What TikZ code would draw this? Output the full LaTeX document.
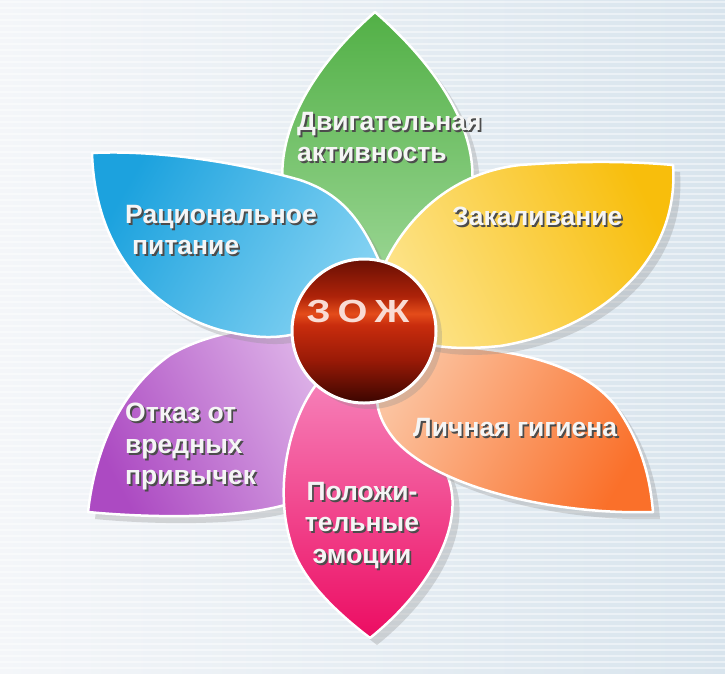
\documentclass[tikz,border=0pt]{standalone}
\usepackage{fontspec}
\newfontfamily\leaffont{Liberation Sans}
\newfontfamily\zozhfont{Liberation Sans}[FakeStretch=1.2]
\usetikzlibrary{shadows}

\definecolor{bgleft}{HTML}{F4F6F9}
\definecolor{bgright}{HTML}{D8E4ED}
\definecolor{greentip}{HTML}{52B046}
\definecolor{greenbase}{HTML}{A6DCA0}
\definecolor{bluetip}{HTML}{1CA2DE}
\definecolor{bluebase}{HTML}{86D3F3}
\definecolor{yellowtip}{HTML}{F8BE0C}
\definecolor{yellowbase}{HTML}{FDE48C}
\definecolor{orangetip}{HTML}{FA702A}
\definecolor{orangebase}{HTML}{FBC3A0}
\definecolor{pinktip}{HTML}{EC0C62}
\definecolor{pinkbase}{HTML}{F78AC0}
\definecolor{violettip}{HTML}{AC4AC2}
\definecolor{violetbase}{HTML}{E0B8EA}
\definecolor{labelwhite}{HTML}{F5F5F5}
\definecolor{zozhwhite}{HTML}{F9DCD4}
\definecolor{ballA}{HTML}{3A0500}
\definecolor{ballB}{HTML}{9A1A07}
\definecolor{ballC}{HTML}{C82C0D}
\definecolor{ballD}{HTML}{E44C1A}
\definecolor{ballE}{HTML}{AE2309}
\definecolor{ballF}{HTML}{680F04}

\pgfdeclareverticalshading{zozhball}{100bp}{color(0bp)=(ballA); color(25bp)=(ballA); color(40bp)=(ballB); color(52bp)=(ballC); color(56bp)=(ballD); color(62bp)=(ballE); color(75bp)=(ballF); color(100bp)=(ballF)}

\tikzstyle{bgstripe} = [white, line width=2pt, opacity=0.45]
\tikzstyle{leaf} = [draw=white, line width=2.5pt, line join=round, drop shadow={shadow xshift=7pt, shadow yshift=-7pt, opacity=0.3, fill=black!45}]
\tikzstyle{ball} = [circle, minimum size=144pt, inner sep=0pt, draw=white, line width=3pt, shade, shading=zozhball, drop shadow={shadow xshift=6pt, shadow yshift=-6pt, opacity=0.3, fill=black!45}]
\tikzstyle{balltext} = [font=\zozhfont\bfseries\fontsize{32}{36}\selectfont, text=zozhwhite, inner sep=0pt]
\tikzstyle{leaftext} = [font=\leaffont\bfseries\fontsize{26.5}{31.5}\selectfont, text=labelwhite, inner sep=0pt]
\tikzstyle{leafshadow} = [leaftext, text=black!70, xshift=1.8pt, yshift=-1.8pt]

\newcommand{\leaflabel}[4]{%
  \node[leafshadow, #2] at #3 {#4};
  \node[leaftext, #2] (#1) at #3 {#4};}

\begin{document}
\begin{tikzpicture}[x=1pt, y=-1pt]
	\useasboundingbox (0,0) rectangle (725,673);
	\fill[left color=bgleft, right color=bgright] (0,0) rectangle (725,673);
	\foreach \y in {2,8,...,672}
		\draw[bgstripe] (0,\y) -- (725,\y);

	% petals, back to front
	\path[leaf, top color=greentip, bottom color=greenbase]
		(375,320) .. controls (350,300) and (300,260) .. (285,200)
		.. controls (270,130) and (320,60) .. (375,12)
		.. controls (430,60) and (485,130) .. (470,200)
		.. controls (455,260) and (400,300) .. cycle;
	\path[leaf, top color=violettip, bottom color=violetbase, shading angle=118]
		(340,340) .. controls (300,320) and (220,325) .. (170,355)
		.. controls (120,390) and (95,450) .. (88,512)
		.. controls (150,518) and (250,520) .. (300,500)
		.. controls (340,470) and (350,400) .. cycle;
	\path[leaf, top color=pinktip, bottom color=pinkbase, shading angle=180]
		(345,360) .. controls (300,380) and (270,470) .. (290,540)
		.. controls (300,580) and (340,615) .. (370,638)
		.. controls (430,590) and (470,520) .. (445,470)
		.. controls (425,430) and (390,390) .. cycle;
	\path[leaf, top color=orangetip, bottom color=orangebase, shading angle=-120]
		(400,345) .. controls (470,345) and (570,350) .. (615,405)
		.. controls (640,440) and (650,475) .. (653,512)
		.. controls (560,515) and (440,490) .. (395,440)
		.. controls (370,410) and (370,380) .. cycle;
	\path[leaf, top color=yellowtip, bottom color=yellowbase, shading angle=-64]
		(370,310) .. controls (380,250) and (430,175) .. (520,165)
		.. controls (590,160) and (640,162) .. (673,165)
		.. controls (680,260) and (600,330) .. (500,346)
		.. controls (440,352) and (400,345) .. cycle;
	\path[leaf, top color=bluetip, bottom color=bluebase, shading angle=60]
		(385,275) .. controls (365,225) and (345,195) .. (300,180)
		.. controls (230,160) and (150,150) .. (92,153)
		.. controls (95,250) and (150,310) .. (220,330)
		.. controls (280,345) and (320,340) .. cycle;

	\node (zozh) [ball] at (364,331) {};
	\node (zozhlabel) [balltext] at (358,311) {З\hspace{7pt}О\hspace{7pt}Ж};

	\leaflabel{motion}{anchor=north west, align=left}{(297,112)}{Двигательная\\активность}
	\leaflabel{food}{anchor=north west, align=left}{(125,205)}{Рациональное\\\hspace*{7pt}питание}
	\leaflabel{hardening}{anchor=north west}{(452,207)}{Закаливание}
	\leaflabel{hygiene}{anchor=north west}{(413,418)}{Личная гигиена}
	\leaflabel{habits}{anchor=north west, align=left}{(125,403)}{Отказ от\\вредных\\привычек}
	\leaflabel{emotions}{anchor=north, align=center}{(362,482)}{Положи-\\тельные\\эмоции}
\end{tikzpicture}
\end{document}
